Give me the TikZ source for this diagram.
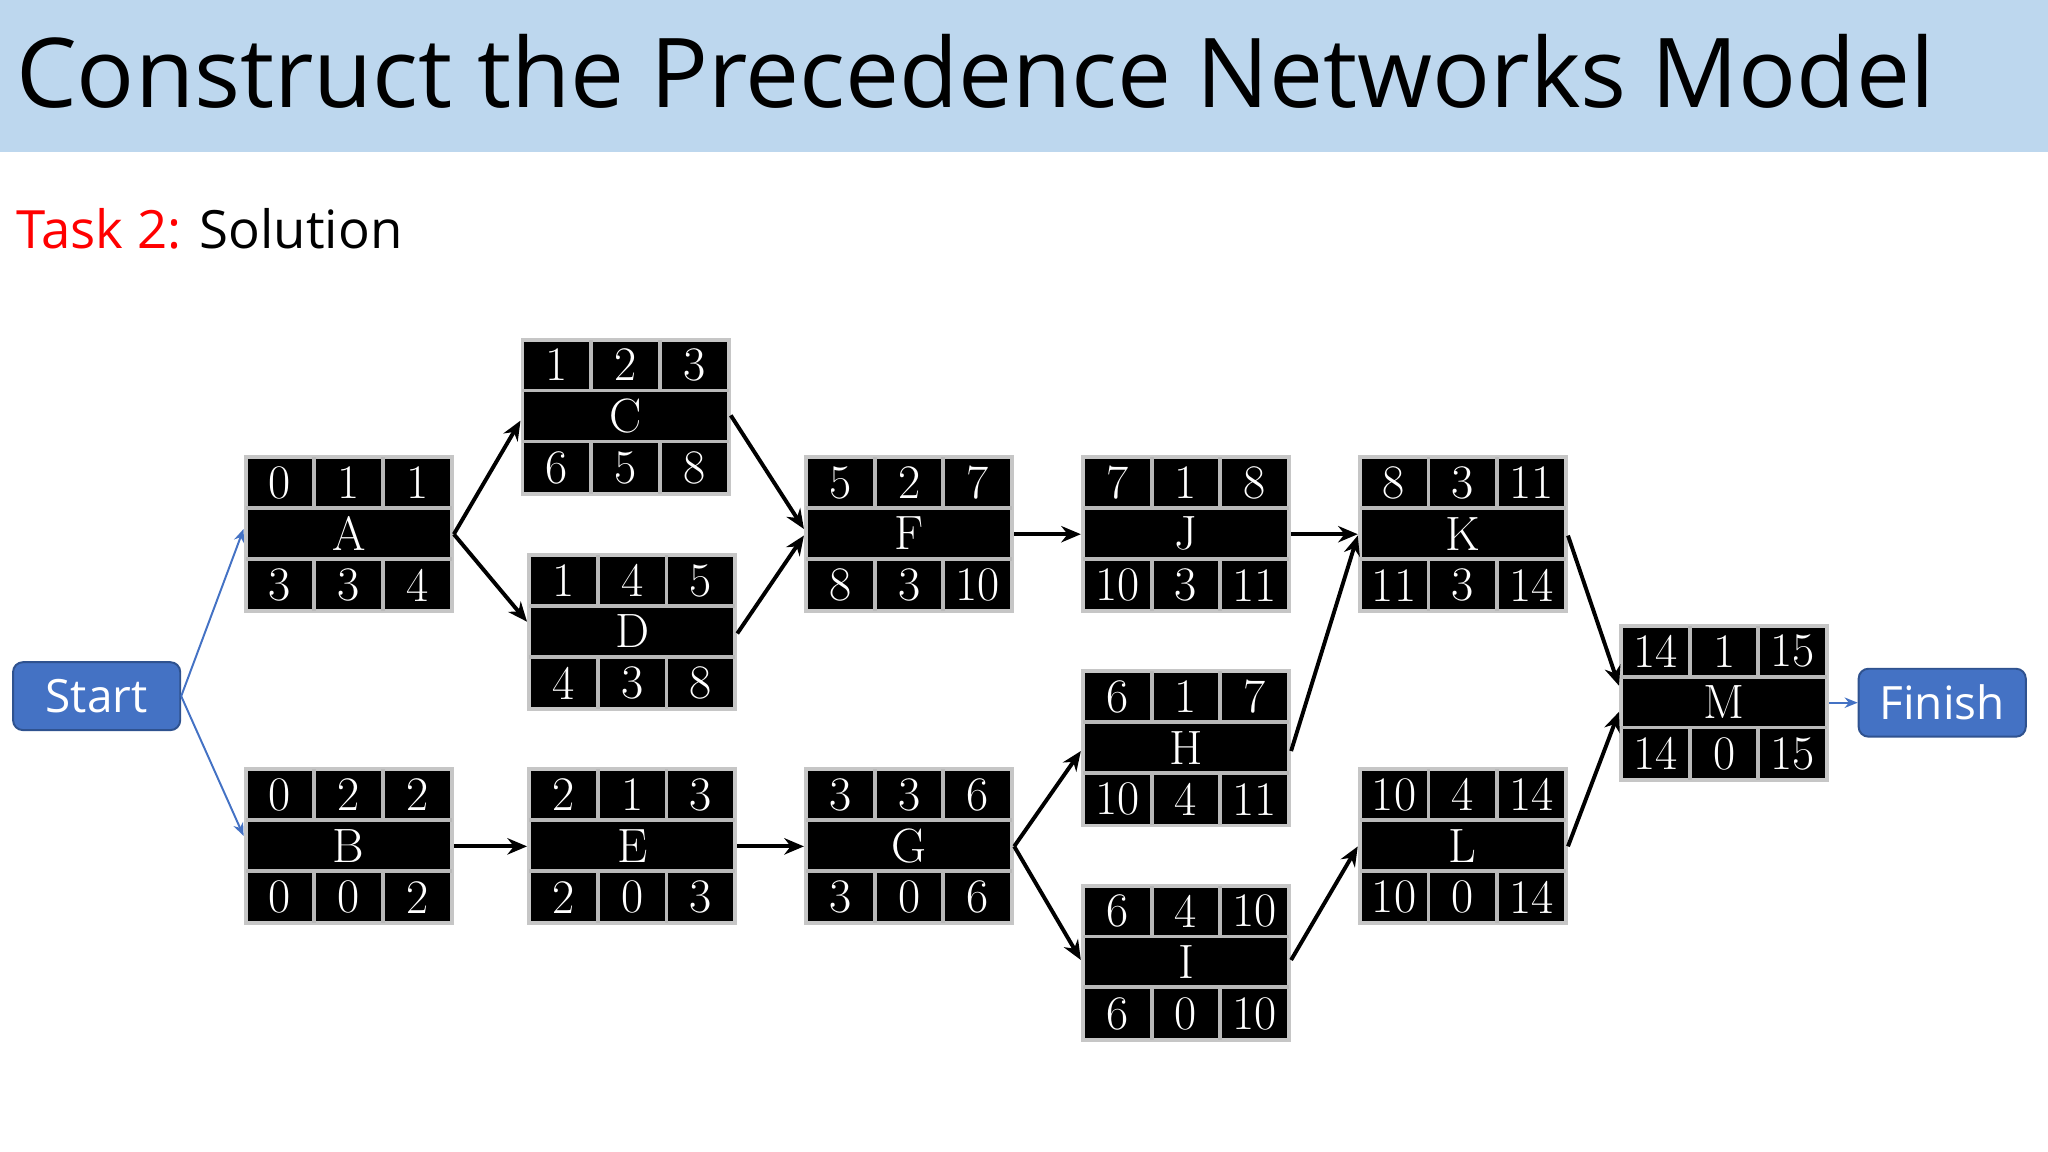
\documentclass[tikz,border=0pt]{standalone}
\usepackage{fontspec}
\setsansfont{Open Sans}
\usetikzlibrary{arrows.meta}
\definecolor{band}{HTML}{BDD7EE}
\definecolor{sblue}{HTML}{4472C4}
\definecolor{sedge}{HTML}{2F528F}
\tikzset{
 actbox/.style={fill=black,draw=gray!45,line width=0.06cm,minimum width=3.16cm,minimum height=2.36cm,inner sep=0pt},
 gridl/.style={draw=gray!55,line width=0.06cm},
 cell/.style={text=white,font=\fontsize{21}{21}\selectfont,inner sep=0pt},
 arr/.style={line width=0.06cm,-{Stealth[length=0.3cm,width=0.25cm]}},
 barr/.style={sblue,line width=0.03cm,-{Stealth[length=0.2cm,width=0.16cm]}},
 term/.style={fill=sblue,draw=sedge,line width=0.03cm,rounded corners=0.15cm,text=white,font=\sffamily\fontsize{20}{20}\selectfont,minimum width=2.56cm,minimum height=1.04cm}
}
\newcommand\act[9]{%
 \node[actbox] (#1) at ({#2+79},{#3+59}) {};
 \draw[gridl] (#2,#3+39)--(#2+158,#3+39) (#2,#3+78)--(#2+158,#3+78)
  (#2+52.7,#3)--(#2+52.7,#3+39) (#2+105.3,#3)--(#2+105.3,#3+39)
  (#2+52.7,#3+78)--(#2+52.7,#3+118) (#2+105.3,#3+78)--(#2+105.3,#3+118);
 \node[cell] (#1t1) at ({#2+26.3},{#3+19.5}) {#4};
 \node[cell] (#1t2) at ({#2+79},{#3+19.5}) {#5};
 \node[cell] (#1t3) at ({#2+131.7},{#3+19.5}) {#6};
 \node[cell] (#1m) at ({#2+79},{#3+58.5}) {#1};
 \node[cell] (#1b1) at ({#2+26.3},{#3+98}) {#7};
 \node[cell] (#1b2) at ({#2+79},{#3+98}) {#8};
 \node[cell] (#1b3) at ({#2+131.7},{#3+98}) {#9};
}
\begin{document}
\begin{tikzpicture}[x=0.02cm,y=-0.02cm]
\useasboundingbox (0,0) rectangle (1568,882);
\fill[band] (0,0) rectangle (1568,116);
\node[anchor=base west,inner sep=0pt,font=\sffamily\fontsize{42}{42}\selectfont] (title) at (12,82) {Construct the Precedence Networks Model};
\node[anchor=base west,inner sep=0pt,font=\sffamily\fontsize{23}{23}\selectfont] (task) at (12,190) {\textcolor{red}{Task 2:} Solution};
\act{A}{188}{350}{0}{1}{1}{3}{3}{4}
\act{C}{400}{260}{1}{2}{3}{6}{5}{8}
\act{D}{405}{425}{1}{4}{5}{4}{3}{8}
\act{F}{617}{350}{5}{2}{7}{8}{3}{10}
\act{J}{829}{350}{7}{1}{8}{10}{3}{11}
\act{K}{1041}{350}{8}{3}{11}{11}{3}{14}
\act{H}{829}{514}{6}{1}{7}{10}{4}{11}
\act{M}{1241}{479}{14}{1}{15}{14}{0}{15}
\act{B}{188}{589}{0}{2}{2}{0}{0}{2}
\act{E}{405}{589}{2}{1}{3}{2}{0}{3}
\act{G}{617}{589}{3}{3}{6}{3}{0}{6}
\act{I}{829}{678}{6}{4}{10}{6}{0}{10}
\act{L}{1041}{589}{10}{4}{14}{10}{0}{14}
\node[term] (start) at (74,533) {Start};
\node[term] (finish) at (1487,538) {Finish};
\draw[barr] (start.east) -- (A.west |- 0,405);
\draw[barr] (start.east) -- (B.west |- 0,640);
\draw[barr] (M.east |- finish) -- (finish.west);
\draw[arr] (A.east) -- (C.west |- 0,322);
\draw[arr] (A.east) -- (D.west |- 0,476);
\draw[arr] (C.east |- 0,318) -- (F.west |- 0,405);
\draw[arr] (D.east |- 0,485) -- (F.west |- 0,410);
\draw[arr] (F.east) -- (J.west);
\draw[arr] (J.east) -- (K.west);
\draw[arr] (B.east) -- (E.west);
\draw[arr] (E.east) -- (G.west);
\draw[arr] (G.east) -- (H.west |- 0,575);
\draw[arr] (G.east) -- (I.west |- 0,735);
\draw[arr] (H.east |- 0,575) -- (K.west |- 0,410);
\draw[arr] (I.east |- 0,735) -- (L.west |- 0,648);
\draw[arr] (K.east |- 0,410) -- (M.west |- 0,525);
\draw[arr] (L.east |- 0,648) -- (M.west |- 0,545);
\end{tikzpicture}
\end{document}
